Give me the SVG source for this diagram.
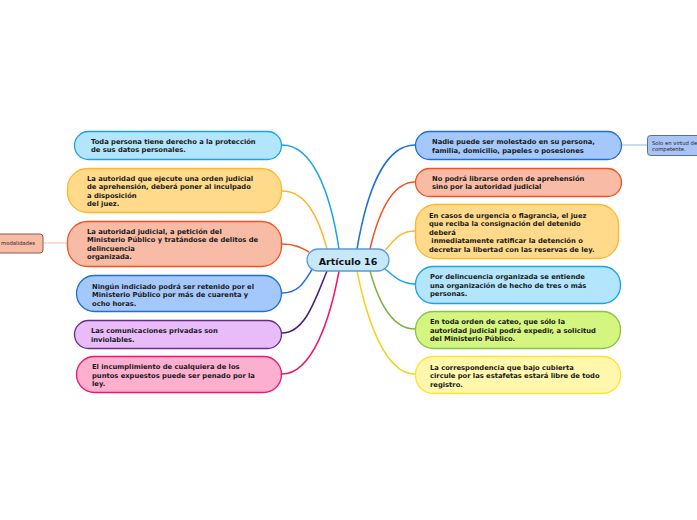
<svg xmlns="http://www.w3.org/2000/svg" width="697" height="520" viewBox="0 0 697 520">
<style>
.t{font-family:"DejaVu Sans",Verdana,sans-serif;font-weight:bold;font-size:6.75px;fill:#1a1a1a}
.c{fill:none;stroke-width:1.5}
.n{stroke-width:1.3}
.s{font-family:"DejaVu Sans",Verdana,sans-serif;font-size:5.3px;fill:#222}
</style>
<rect width="697" height="520" fill="#fff"/>
<g id="connectors">
<path class="c" stroke="#1aa3e8" d="M282,145 C312,145 330,190 339,249"/>
<path class="c" stroke="#ffb62e" d="M282,191 C305,191 318,215 327,249"/>
<path class="c" stroke="#f4511e" d="M282,244 C295,244 302,248 309,252"/>
<path class="c" stroke="#1e6fd9" d="M282,293 C300,293 305,280 313,268"/>
<path class="c" stroke="#4a1c7c" d="M282,333 C305,333 315,300 327,271"/>
<path class="c" stroke="#f0166e" d="M282,374 C312,374 330,320 339,271"/>
<path class="c" stroke="#1e6fd9" d="M415,145 C385,145 367,190 357,249"/>
<path class="c" stroke="#f4511e" d="M415,182 C392,182 378,215 370,249"/>
<path class="c" stroke="#ffb62e" d="M415,231 C398,231 393,243 385,250"/>
<path class="c" stroke="#1aa3e8" d="M415,284 C400,284 393,275 385,269"/>
<path class="c" stroke="#7cb342" d="M415,329 C392,329 378,300 370,271"/>
<path class="c" stroke="#f2d21b" d="M415,374 C385,374 367,320 357,271"/>
<path stroke="#99b4e3" stroke-width="1" d="M622,145 H647"/>
<path stroke="#f8c4b4" stroke-width="1.2" d="M43,243 H67"/>
</g>
<g id="center">
<rect x="307" y="249" width="82" height="22" rx="11" fill="#c6e8f9" stroke="#5b9bd5" stroke-width="1.3"/>
<text x="348" y="264.5" text-anchor="middle" style="font-family:'DejaVu Sans',Verdana,sans-serif;font-weight:bold;font-size:9.5px;fill:#111">Artículo 16</text>
</g>
<g id="l1">
<rect class="n" x="74.5" y="131.5" width="207" height="28" rx="14" fill="#b3e5fc" stroke="#1aa3e8"/>
<text class="t"><tspan x="91" y="143.7">Toda persona tiene derecho a la protección</tspan><tspan x="91" y="152.2">de sus datos personales.</tspan></text>
</g>
<g id="l2">
<rect class="n" x="67.5" y="168.5" width="214" height="44" rx="20" fill="#ffda8a" stroke="#ffb62e"/>
<text class="t"><tspan x="87" y="180.5">La autoridad que ejecute una orden judicial</tspan><tspan x="87" y="189">de aprehensión, deberá poner al inculpado</tspan><tspan x="87" y="197.5">a disposición</tspan><tspan x="87" y="206">del juez.</tspan></text>
</g>
<g id="l3">
<rect class="n" x="67.5" y="221.5" width="214" height="45" rx="20" fill="#f8bba6" stroke="#f4511e"/>
<text class="t"><tspan x="87" y="233.5">La autoridad judicial, a petición del</tspan><tspan x="87" y="242">Ministerio Público y tratándose de delitos de</tspan><tspan x="87" y="250.5">delincuencia</tspan><tspan x="87" y="259">organizada.</tspan></text>
</g>
<g id="l3a">
<rect x="-10" y="234" width="53" height="19" rx="3" fill="#f8bba6" stroke="#8a5a4a" stroke-width="1"/>
<text class="s" x="1" y="245">modalidades</text>
</g>
<g id="l4">
<rect class="n" x="76.5" y="275.5" width="205" height="36" rx="18" fill="#a5c8fb" stroke="#1e6fd9"/>
<text class="t"><tspan x="92" y="288.5">Ningún indiciado podrá ser retenido por el</tspan><tspan x="92" y="297">Ministerio Público por más de cuarenta y</tspan><tspan x="92" y="305.5">ocho horas.</tspan></text>
</g>
<g id="l5">
<rect class="n" x="74.5" y="320.5" width="207" height="28" rx="14" fill="#e8bbf9" stroke="#6a2c84"/>
<text class="t"><tspan x="91" y="333">Las comunicaciones privadas son</tspan><tspan x="91" y="341.5">inviolables.</tspan></text>
</g>
<g id="l6">
<rect class="n" x="76.5" y="356.5" width="205" height="36" rx="18" fill="#fdafd0" stroke="#f0166e"/>
<text class="t"><tspan x="92" y="369">El incumplimiento de cualquiera de los</tspan><tspan x="92" y="377.5">puntos expuestos puede ser penado por la</tspan><tspan x="92" y="386">ley.</tspan></text>
</g>
<g id="r1">
<rect class="n" x="415.5" y="131.5" width="206" height="28" rx="14" fill="#a5c8fb" stroke="#1e6fd9"/>
<text class="t"><tspan x="432" y="144">Nadie puede ser molestado en su persona,</tspan><tspan x="432" y="152.5">familia, domicilio, papeles o posesiones</tspan></text>
</g>
<g id="r1a">
<rect x="647.5" y="135.5" width="60" height="20" rx="3" fill="#a9c4f5" stroke="#5a6f9a" stroke-width="1"/>
<text class="s"><tspan x="652" y="145">Solo en virtud de</tspan><tspan x="652" y="151">competente.</tspan></text>
</g>
<g id="r2">
<rect class="n" x="415.5" y="168.5" width="206" height="28" rx="14" fill="#f8bba6" stroke="#f4511e"/>
<text class="t"><tspan x="432" y="180.5">No podrá librarse orden de aprehensión</tspan><tspan x="432" y="189">sino por la autoridad judicial</tspan></text>
</g>
<g id="r3">
<rect class="n" x="415.5" y="204.5" width="203" height="54" rx="20" fill="#ffda8a" stroke="#ffb62e"/>
<text class="t"><tspan x="429" y="217.5">En casos de urgencia o flagrancia, el juez</tspan><tspan x="429" y="226">que reciba la consignación del detenido</tspan><tspan x="429" y="234.5">deberá</tspan><tspan x="429" y="243" xml:space="preserve"> inmediatamente ratificar la detención o</tspan><tspan x="429" y="251.5">decretar la libertad con las reservas de ley.</tspan></text>
</g>
<g id="r4">
<rect class="n" x="415.5" y="266.5" width="205" height="37" rx="18" fill="#b3e5fc" stroke="#1aa3e8"/>
<text class="t"><tspan x="430" y="279">Por delincuencia organizada se entiende</tspan><tspan x="430" y="287.5">una organización de hecho de tres o más</tspan><tspan x="430" y="296">personas.</tspan></text>
</g>
<g id="r5">
<rect class="n" x="415.5" y="311.5" width="205" height="37" rx="18" fill="#d4f57f" stroke="#8bc34a"/>
<text class="t"><tspan x="430" y="324">En toda orden de cateo, que sólo la</tspan><tspan x="430" y="332.5">autoridad judicial podrá expedir, a solicitud</tspan><tspan x="430" y="341">del Ministerio Público.</tspan></text>
</g>
<g id="r6">
<rect class="n" x="415.5" y="356.5" width="205" height="37" rx="18" fill="#fff7ab" stroke="#ffe135"/>
<text class="t"><tspan x="430" y="369.5">La correspondencia que bajo cubierta</tspan><tspan x="430" y="378">circule por las estafetas estará libre de todo</tspan><tspan x="430" y="386.5">registro.</tspan></text>
</g>
</svg>
